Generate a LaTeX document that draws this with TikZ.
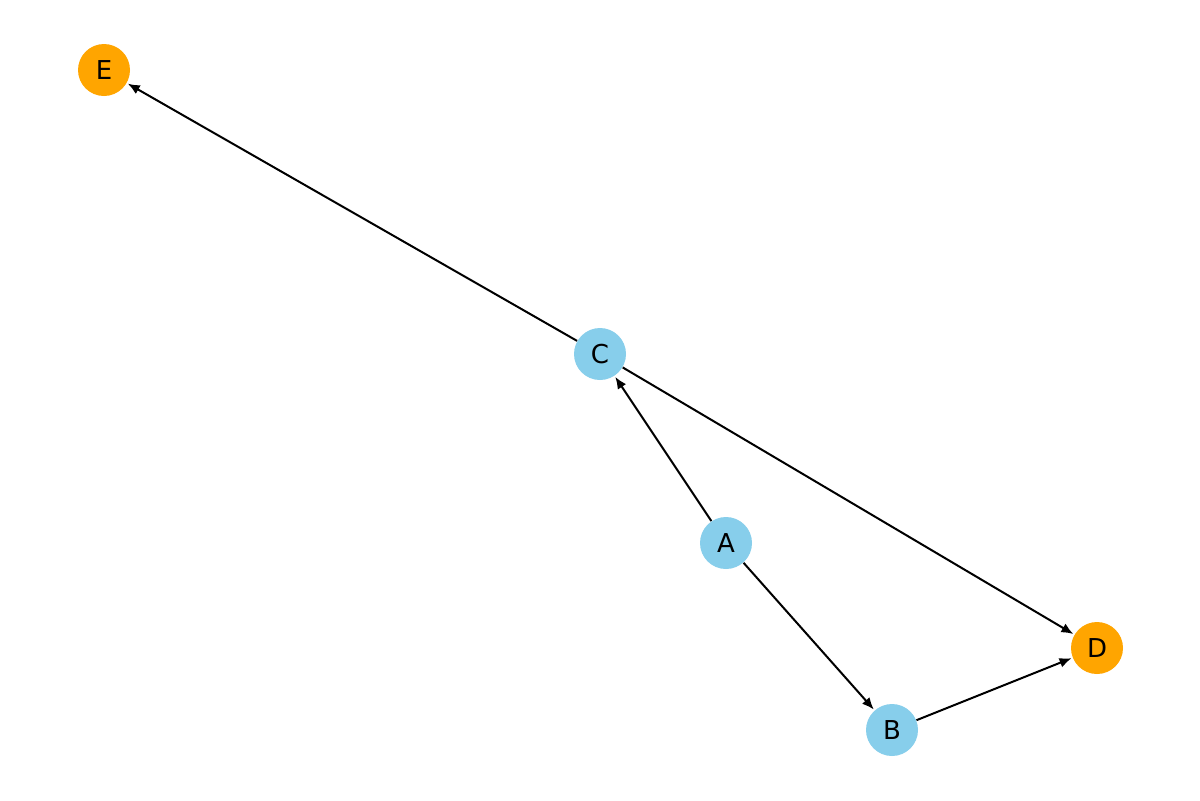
\documentclass[tikz,border=0pt]{standalone}
\usepackage{fontspec}
\setmainfont{DejaVu Sans}
\usetikzlibrary{arrows.meta}
\definecolor{sky}{HTML}{87CEEB}
\definecolor{org}{HTML}{FFA500}
\begin{document}
\begin{tikzpicture}[x=0.5pt,y=-0.5pt,
  nd/.style={circle,inner sep=0pt,minimum size=26pt,font=\fontsize{13}{13}\selectfont},
  ed/.style={line width=1pt,-{Latex[length=6pt,width=5pt]},shorten >=0.5pt}]
\fill[white] (0,0) rectangle (1200,800);
\node[nd,fill=org] (E) at (104,70) {E};
\node[nd,fill=sky] (C) at (600,354) {C};
\node[nd,fill=sky] (A) at (726,543) {A};
\node[nd,fill=sky] (B) at (892,730) {B};
\node[nd,fill=org] (D) at (1097,648) {D};
\draw[ed] (C) -- (E);
\draw[ed] (C) -- (D);
\draw[ed] (A) -- (C);
\draw[ed] (A) -- (B);
\draw[ed] (B) -- (D);
\end{tikzpicture}
\end{document}
